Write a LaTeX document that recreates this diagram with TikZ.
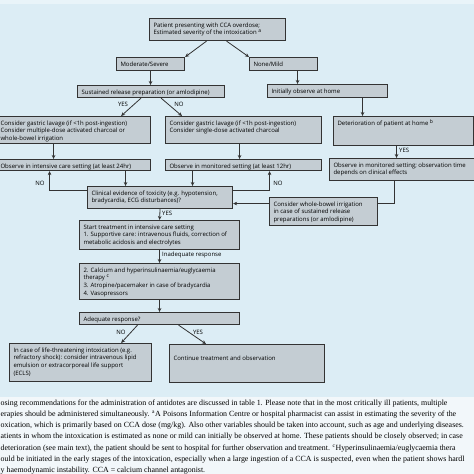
\documentclass[tikz,border=0pt]{standalone}
\usepackage{fontspec}
\setmainfont{Liberation Serif}
\newfontfamily\flowsans{Open Sans}
\usetikzlibrary{arrows.meta,calc}
\definecolor{bgblue}{HTML}{DCEDF5}
\definecolor{toplight}{HTML}{E9F4F9}
\definecolor{capbg}{HTML}{F2F7FA}
\definecolor{boxfill}{HTML}{C4CDD3}
\definecolor{boxline}{HTML}{333333}
\newcommand{\bt}[3]{\parbox[c][\dimexpr#2pt-6pt\relax][t]{\dimexpr#1pt-8pt\relax}{\raggedright\strut#3}}

\begin{document}
\begin{tikzpicture}[x=1pt,y=-1pt,
    fbox/.style={draw=boxline,fill=boxfill,line width=1.1pt,inner xsep=4pt,inner ysep=3pt,anchor=north west,font=\flowsans\fontsize{6}{7.8}\selectfont},
    arr/.style={draw=boxline,line width=0.8pt,-{Stealth[length=4pt,width=3.6pt]}},
    plain/.style={draw=boxline,line width=0.8pt},
    lbl/.style={font=\flowsans\fontsize{6}{7}\selectfont,inner sep=0pt},
    captext/.style={font=\fontsize{7.9}{9}\selectfont,inner sep=0pt}]
\useasboundingbox (0,0) rectangle (474,474);
\clip (0,0) rectangle (474,474);
\fill[toplight] (0,0) rectangle (474,4);
\fill[bgblue] (0,4) rectangle (474,397);
\fill[capbg] (0,397) rectangle (474,474);

\node[fbox] (patient) at (149,18) {\bt{136}{22}{Patient presenting with CCA overdose;\\Estimated severity of the intoxication \textsuperscript{a}}};
\node[fbox] (modsev) at (116,57) {\bt{68}{13}{Moderate/Severe}};
\node[fbox] (nonemild) at (249,57) {\bt{68}{13}{None/Mild}};
\node[fbox] (sustained) at (77,85) {\bt{147}{12}{Sustained release preparation (or amlodipine)}};
\node[fbox] (homeobs) at (267,84) {\bt{120}{13}{Initially observe at home}};
\node[fbox] (lavmulti) at (-4,116) {\bt{154}{27}{Consider gastric lavage (if <1h post-ingestion)\\Consider multiple-dose activated charcoal or\\whole-bowel irrigation}};
\node[fbox] (lavsingle) at (165,116) {\bt{156}{27}{Consider gastric lavage (if <1h post-ingestion)\\Consider single-dose activated charcoal}};
\node[fbox] (deterior) at (333,116) {\bt{140}{29}{Deterioration of patient at home \textsuperscript{b}}};
\node[fbox] (icuobs) at (-4,159) {\bt{154}{11}{Observe in intensive care setting (at least 24hr)}};
\node[fbox] (monobs) at (165,159) {\bt{156}{11}{Observe in monitored setting (at least 12hr)}};
\node[fbox] (timeobs) at (329,158) {\bt{146}{22}{Observe in monitored setting; observation time\\depends on clinical effects}};
\node[fbox] (clinical) at (87,186) {\bt{145}{22}{Clinical evidence of toxicity (e.g. hypotension,\\bradycardia, ECG disturbances)?}};
\node[fbox] (wbi) at (269,197) {\bt{108}{28}{Consider whole-bowel irrigation\\in case of sustained release\\preparations (or amlodipine)}};
\node[fbox] (startic) at (79,220) {\bt{160}{29}{Start treatment in intensive care setting\\1. Supportive care: intravenous fluids, correction of\\metabolic acidosis and electrolytes}};
\node[fbox] (calcium) at (79,263) {\bt{160}{36}{2. Calcium and hyperinsulinaemia/euglycaemia\\therapy \textsuperscript{c}\\3. Atropine/pacemaker in case of bradycardia\\4. Vasopressors}};
\node[fbox] (adequate) at (79,312) {\bt{160}{12}{Adequate response?}};
\node[fbox] (lipid) at (9,343) {\bt{142}{38}{In case of life-threatening intoxication (e.g.\\refractory shock): consider intravenous lipid\\emulsion or extracorporeal life support\\(ECLS)}};
\node[fbox] (contobs) at (169,344) {\bt{155}{38}{\rule{0pt}{13pt}Continue treatment and observation}};

\node[lbl] (yes1) at (123,104) {YES};
\node[lbl] (no1) at (179,104) {NO};
\node[lbl,anchor=west] (yes2) at (399,150) {YES};
\node[lbl] (no2) at (40,183) {NO};
\node[lbl] (no3) at (278,183) {NO};
\node[lbl,anchor=west] (yes3) at (162,213) {YES};
\node[lbl,anchor=west] (inadeq) at (162,255) {Inadequate response};
\node[lbl] (no4) at (121,332) {NO};
\node[lbl] (yes4) at (198,332) {YES};

\coordinate (nmout) at ([xshift=14]nonemild.south);
\coordinate (hoout) at ([xshift=35]homeobs.south);
\coordinate (deout) at ([xshift=-7]deterior.south);
\coordinate (icuout) at ([xshift=52]icuobs.south);
\coordinate (monout) at ([xshift=-51]monobs.south);
\coordinate (wbiin) at ([yshift=8]wbi.west);
\draw[arr] ([xshift=-11]patient.south) -- (modsev.north east);
\draw[arr] ([xshift=9]patient.south) -- (nonemild.north west);
\draw[arr] (modsev.south) -- (modsev.south |- sustained.north);
\draw[arr] (nmout) -- (nmout |- homeobs.north);
\draw[arr] ([xshift=-10]sustained.south) -- ([xshift=-30]lavmulti.north east);
\draw[arr] ([xshift=10]sustained.south) -- ([xshift=17]lavsingle.north west);
\draw[arr] (hoout) -- (hoout |- deterior.north);
\draw[arr] ([xshift=-20]lavmulti.south) -- ([xshift=-20]icuobs.north);
\draw[arr] ([xshift=-4]lavsingle.south) -- ([xshift=-4]monobs.north);
\draw[arr] (deout) -- (deout |- timeobs.north);
\draw[arr] (icuout) -- (icuout |- clinical.north);
\draw[arr] (monout) -- (monout |- clinical.north);
\draw[arr] ([yshift=7]clinical.west) -| ([xshift=-24]icuobs.south);
\draw[arr] ([yshift=7]clinical.east) -| ([xshift=26]monobs.south);
\draw[plain] ([xshift=-8]timeobs.south) |- ([yshift=8]wbi.east);
\draw[arr] (wbiin) -- (wbiin -| clinical.east);
\draw[arr] (clinical.south) -- (startic.north);
\draw[arr] (startic.south) -- (calcium.north);
\draw[arr] (calcium.south) -- (adequate.north);
\draw[arr] ([xshift=-22]adequate.south) -- ([xshift=-31]lipid.north east);
\draw[arr] ([xshift=19]adequate.south) -- ([xshift=37]contobs.north west);

\foreach \capline [count=\k] in {%
  {osing recommendations for the administration of antidotes are discussed in table 1. Please note that in the most critically ill patients, multiple},
  {erapies should be administered simultaneously. \textsuperscript{a}A Poisons Information Centre or hospital pharmacist can assist in estimating the severity of the},
  {oxication, which is primarily based on CCA dose (mg/kg). Also other variables should be taken into account, such as age and underlying diseases.},
  {atients in whom the intoxication is estimated as none or mild can initially be observed at home. These patients should be closely observed; in case},
  {deterioration (see main text), the patient should be sent to hospital for further observation and treatment. \textsuperscript{c}Hyperinsulinaemia/euglycaemia thera},
  {ould be initiated in the early stages of the intoxication, especially when a large ingestion of a CCA is suspected, even when the patient shows hardl},
  {y haemodynamic instability. CCA = calcium channel antagonist.}}
  \node[captext,anchor=base west] (cap\k) at (0.5,{394+11.2*\k}) {\capline};
\end{tikzpicture}
\end{document}
